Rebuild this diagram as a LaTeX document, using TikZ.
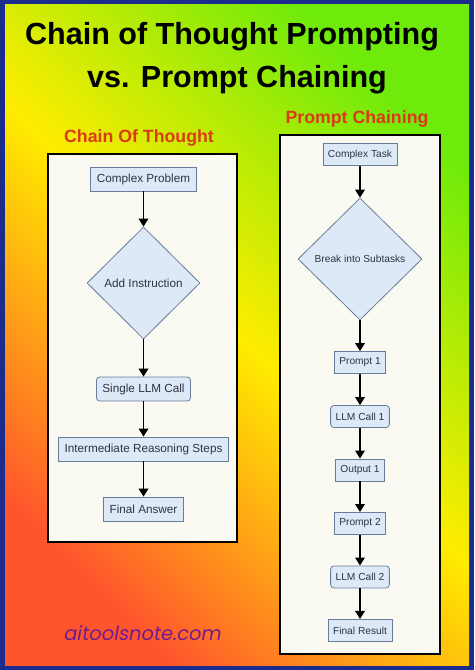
\documentclass[tikz,border=0pt]{standalone}
\usepackage{fontspec}
\setmainfont{Liberation Sans}
\newfontfamily\sitefont[FakeSlant=0.18]{Poppins}
\usetikzlibrary{shapes.geometric,arrows.meta}
\definecolor{framebl}{RGB}{28,44,140}
\definecolor{panelfill}{RGB}{250,250,242}
\definecolor{stepfill}{RGB}{222,233,248}
\definecolor{stepline}{RGB}{105,125,155}
\definecolor{steptext}{RGB}{45,52,68}
\definecolor{headred}{RGB}{218,58,22}
\definecolor{sitepurple}{RGB}{112,28,145}
\definecolor{bgorange}{RGB}{255,85,45}
\definecolor{bgyellow}{RGB}{255,236,0}
\definecolor{bggreen}{RGB}{110,235,10}
\providecommand\mypx{.75pt}

\begin{document}
\begin{tikzpicture}[x=\mypx,y=-\mypx]
  \tikzstyle{cotstep} = [rectangle, draw=stepline, fill=stepfill, text=steptext, line width=.6pt,
                         inner xsep=4.5pt, minimum height=18pt, font=\fontsize{8.8}{10}\selectfont]
  \tikzstyle{pcstep} = [cotstep, inner xsep=3.75pt, minimum height=16.5pt, font=\fontsize{7.65}{9}\selectfont]
  \tikzstyle{decision} = [diamond, draw=stepline, fill=stepfill, text=steptext, line width=.6pt, aspect=1, inner sep=1pt]
  \tikzstyle{flow} = [-{Triangle[length=6pt,width=7.2pt]}, line width=1.1pt]
  \tikzstyle{panel} = [draw=black, fill=panelfill, line width=1.1pt]
  \tikzstyle{heading} = [anchor=base, text=headred, font=\fontsize{13.3}{15}\selectfont\bfseries]
  \tikzstyle{titletext} = [anchor=base, font=\fontsize{22.9}{26}\selectfont\bfseries]
\fill[framebl] (0,0) rectangle (474,670);
\shade[bottom color=bgorange, top color=bggreen, middle color=bgyellow, shading angle=-45] (5,5) rectangle (469,665);
\node[titletext] (title) at (232,45) {Chain of Thought Prompting};
\node[titletext] (subtitle) at (237,88) {vs. Prompt Chaining};
\node[heading] (cothead) at (139,143) {Chain Of Thought};
\node[heading] (pchead) at (357,124) {Prompt Chaining};
\draw[panel] (48,154) rectangle (237,542);
\draw[panel] (280,135) rectangle (440,654);
% chain of thought
\node[cotstep] (problem) at (143.5,179) {Complex Problem};
\node[decision, below of=problem, node distance=78pt, minimum width=84.75pt, minimum height=84pt,
      font=\fontsize{8.8}{10}\selectfont] (instr) {Add Instruction};
\node[cotstep, rounded corners=2.5pt, below of=instr, node distance=79.5pt] (single) {Single LLM Call};
\node[cotstep, below of=single, node distance=45pt] (steps) {Intermediate Reasoning Steps};
\node[cotstep, below of=steps, node distance=45pt] (answer) {Final Answer};
\draw[flow] (problem) -- (instr);
\draw[flow] (instr) -- (single);
\draw[flow] (single) -- (steps);
\draw[flow] (steps) -- (answer);
% prompt chaining
\node[pcstep] (task) at (360,154.5) {Complex Task};
\node[decision, below of=task, node distance=78.4pt, minimum width=93pt, minimum height=91.5pt,
      font=\fontsize{7.65}{9}\selectfont] (split) {Break into Subtasks};
\node[pcstep, below of=split, node distance=77.6pt] (prompta) {Prompt 1};
\node[pcstep, rounded corners=2.5pt, below of=prompta, node distance=40.5pt] (calla) {LLM Call 1};
\node[pcstep, below of=calla, node distance=40.1pt] (outa) {Output 1};
\node[pcstep, below of=outa, node distance=40.1pt] (promptb) {Prompt 2};
\node[pcstep, rounded corners=2.5pt, below of=promptb, node distance=40.1pt] (callb) {LLM Call 2};
\node[pcstep, below of=callb, node distance=40.1pt] (result) {Final Result};
\draw[flow] (task) -- (split);
\draw[flow] (split) -- (prompta);
\draw[flow] (prompta) -- (calla);
\draw[flow] (calla) -- (outa);
\draw[flow] (outa) -- (promptb);
\draw[flow] (promptb) -- (callb);
\draw[flow] (callb) -- (result);
\node[anchor=base, text=sitepurple, font=\sitefont\fontsize{14.6}{16}\selectfont] (site) at (142,640) {aitoolsnote.com};
\end{tikzpicture}
\end{document}
